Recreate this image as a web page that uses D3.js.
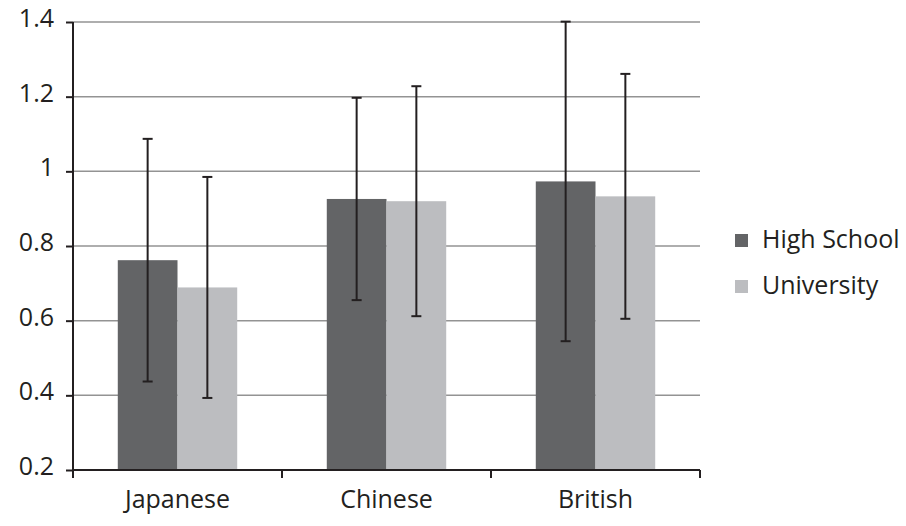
<!DOCTYPE html>
<html lang="en">
<head>
    <meta charset="UTF-8">
    <title>High School vs University</title>
    <style>
        body{ margin:0; background:#fff;}
        text{ font-family:"Open Sans", sans-serif; fill:#231f20;}
    </style>
</head>
<body>

<script src="https://d3js.org/d3.v7.min.js"></script>
<script>

var categories = ["Japanese", "Chinese", "British"];
var seriesNames = ["High School", "University"];
var highSchool = [0.762, 0.926, 0.973];
var university = [0.689, 0.920, 0.933];
var highSchoolErr = [0.325, 0.271, 0.428];
var universityErr = [0.296, 0.308, 0.328];
var yTicks = [0.2, 0.4, 0.6, 0.8, 1, 1.2, 1.4];
var colors = ["#636466", "#bcbdc0"];

var rows = [];
categories.forEach(function(c, i){
    rows.push({ cat:c, s:seriesNames[0], v:highSchool[i], e:highSchoolErr[i] });
    rows.push({ cat:c, s:seriesNames[1], v:university[i], e:universityErr[i] });
});

var svg = d3.select("body").append("svg")
        .attr("width", 906)
        .attr("height", 526);

// plot area
var pL = 73, pR = 700, pT = 22, pB = 470;

var x0 = d3.scaleBand().domain(categories).range([pL, pR]).padding(0);
var x1 = d3.scaleBand().domain(seriesNames).range([0, x0.bandwidth()])
        .paddingInner(0).paddingOuter(0.75);
var y = d3.scaleLinear().domain([0.2, 1.4]).range([pB, pT]);
var color = d3.scaleOrdinal().domain(seriesNames).range(colors);

// gridlines
svg.append("g").selectAll("line")
    .data(yTicks.slice(1))
    .enter().append("line")
        .attr("x1", pL).attr("x2", pR)
        .attr("y1", function(d){ return y(d); })
        .attr("y2", function(d){ return y(d); })
        .attr("stroke", "#939393")
        .attr("stroke-width", 1.5);

// bars
svg.append("g").selectAll("rect")
    .data(rows)
    .enter().append("rect")
        .attr("x", function(d){ return x0(d.cat) + x1(d.s); })
        .attr("y", function(d){ return y(d.v); })
        .attr("width", x1.bandwidth())
        .attr("height", function(d){ return pB - y(d.v); })
        .attr("fill", function(d){ return color(d.s); });

// error bars
var eg = svg.append("g").attr("stroke", "#231f20").attr("stroke-width", 2);
rows.forEach(function(d){
    var cx = x0(d.cat) + x1(d.s) + x1.bandwidth() / 2;
    var hi = y(d.v + d.e), lo = y(d.v - d.e);
    eg.append("line").attr("x1", cx).attr("x2", cx).attr("y1", hi).attr("y2", lo);
    eg.append("line").attr("x1", cx - 5).attr("x2", cx + 5).attr("y1", hi).attr("y2", hi);
    eg.append("line").attr("x1", cx - 5).attr("x2", cx + 5).attr("y1", lo).attr("y2", lo);
});

// y axis
var yAxis = svg.append("g")
        .attr("transform", "translate(" + pL + ",0)")
        .call(d3.axisLeft(y).tickValues(yTicks).tickSize(7).tickPadding(12)
            .tickFormat(function(d){ return String(+d.toFixed(1)); }));
yAxis.select(".domain").attr("stroke", "#231f20").attr("stroke-width", 2).attr("d", "M0," + pT + "V" + pB);
yAxis.selectAll(".tick line").attr("stroke", "#231f20").attr("stroke-width", 2);
yAxis.selectAll(".tick text").style("font-size", "25px").attr("dy", "0.18em").attr("fill", "#231f20");

// x axis
var xAxis = svg.append("g")
        .attr("transform", "translate(0," + pB + ")")
        .call(d3.axisBottom(x0).tickSize(0).tickPadding(20));
xAxis.select(".domain").attr("stroke", "#231f20").attr("stroke-width", 2).attr("d", "M" + pL + ",0H" + pR);
xAxis.selectAll(".tick text").style("font-size", "25px").attr("fill", "#231f20");

var bounds = categories.map(function(c){ return x0(c); }).concat([pR]);
xAxis.selectAll(".bound")
    .data(bounds)
    .enter().append("line")
        .attr("x1", function(d){ return d; }).attr("x2", function(d){ return d; })
        .attr("y1", 0).attr("y2", 8)
        .attr("stroke", "#231f20").attr("stroke-width", 2);

// legend
var legend = svg.append("g").attr("transform", "translate(735,234)");
seriesNames.forEach(function(s, i){
    var g = legend.append("g").attr("transform", "translate(0," + (i * 46) + ")");
    g.append("rect").attr("width", 13).attr("height", 13).attr("fill", color(s));
    g.append("text").attr("x", 27).attr("y", 14).style("font-size", "25px").text(s);
});

</script>

</body>
</html>
